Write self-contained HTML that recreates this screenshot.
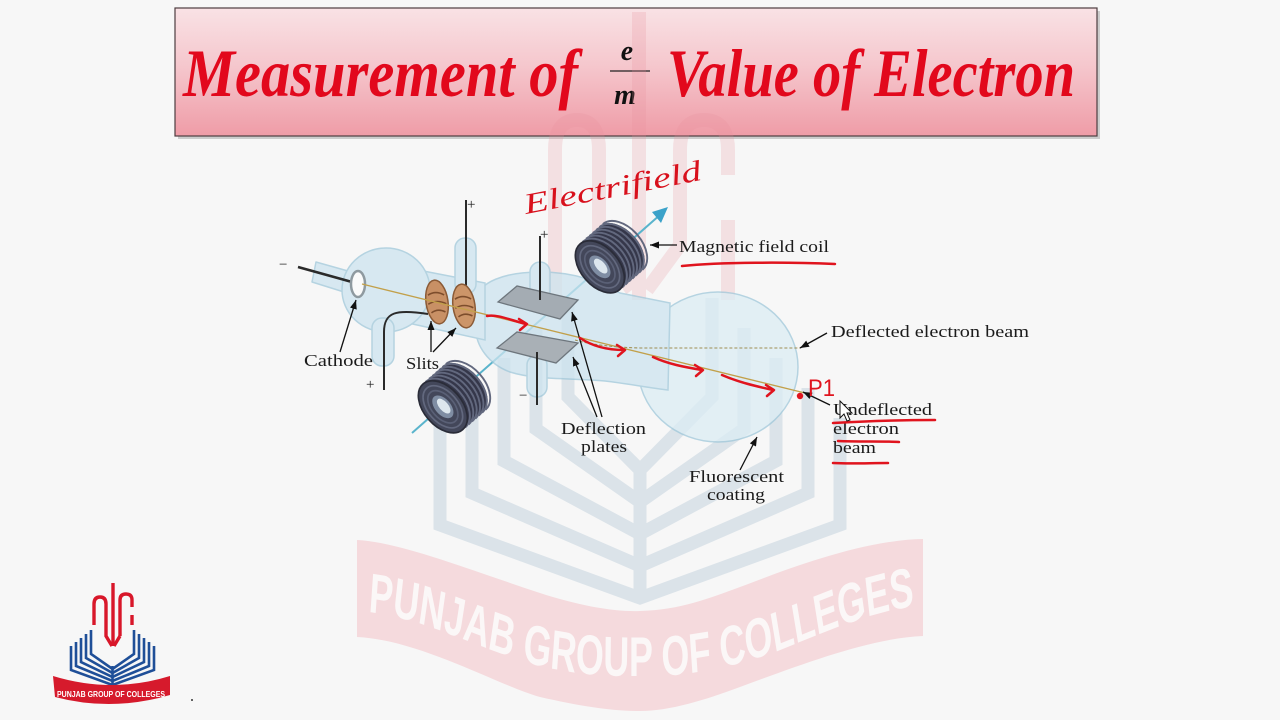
<!DOCTYPE html>
<html><head><meta charset="utf-8">
<style>
html,body{margin:0;padding:0;width:1280px;height:720px;overflow:hidden;background:#f7f7f7;}
svg{display:block}
</style></head><body>
<svg width="1280" height="720" viewBox="0 0 1280 720" xmlns="http://www.w3.org/2000/svg">
<defs>
 <linearGradient id="tg" x1="0" y1="0" x2="0" y2="1">
  <stop offset="0" stop-color="#f9e2e5"/>
  <stop offset="0.45" stop-color="#f5c7cd"/>
  <stop offset="1" stop-color="#ef9ca7"/>
 </linearGradient>
 <marker id="ah" markerUnits="userSpaceOnUse" markerWidth="9" markerHeight="7" viewBox="0 0 9 7" refX="9" refY="3.5" orient="auto">
  <path d="M0,0 L9,3.5 L0,7 Z" fill="#111"/>
 </marker>
 <path id="bp" d="M575,612 C656,618 719,640 812,660 C890,676 953,676 1008,676 C1078,676 1141,668 1219,650 C1297,630 1359,612 1430,606"/>
 <g id="coil">
  <rect x="-12" y="-27" width="24" height="54" fill="#35374a"/>
  <ellipse cx="12" cy="0" rx="17" ry="27" fill="#35374a"/>
  <g fill="none" stroke="#62687e" stroke-width="1.7">
   <path d="M-9,-27 A17,27 0 0 1 -9,27"/>
   <path d="M-5,-27 A17,27 0 0 1 -5,27"/>
   <path d="M-1,-27 A17,27 0 0 1 -1,27"/>
   <path d="M3,-27 A17,27 0 0 1 3,27"/>
   <path d="M7,-27 A17,27 0 0 1 7,27"/>
   <path d="M11,-27 A17,27 0 0 1 11,27"/>
   <path d="M15,-27 A17,27 0 0 1 15,27"/>
  </g>
  <ellipse cx="-12" cy="0" rx="17" ry="27" fill="#43475a" stroke="#2a2c38" stroke-width="1.5"/>
  <ellipse cx="-12" cy="0" rx="13.5" ry="22" fill="none" stroke="#62687e" stroke-width="1.5"/>
  <ellipse cx="-12" cy="0" rx="10" ry="17" fill="none" stroke="#5a6076" stroke-width="1.5"/>
  <ellipse cx="-12" cy="0" rx="7" ry="12" fill="#7f8da3"/>
  <ellipse cx="-11" cy="0" rx="4" ry="8" fill="#dde7ee"/>
 </g>
</defs>

<rect width="1280" height="720" fill="#f7f7f7"/>

<!-- Title box -->
<rect x="178" y="11" width="922" height="128" fill="#a9a9a9" opacity="0.55"/>
<rect x="175" y="8" width="922" height="128" fill="url(#tg)" stroke="#4d3d40" stroke-width="1.2"/>
<text x="183" y="96" font-family="Liberation Serif, serif" font-style="italic" font-weight="bold" font-size="68" fill="#e2081c" textLength="395" lengthAdjust="spacingAndGlyphs">Measurement of</text>
<text x="627" y="60" text-anchor="middle" font-family="Liberation Serif, serif" font-style="italic" font-weight="bold" font-size="28" fill="#111">e</text>
<line x1="610" y1="71" x2="650" y2="71" stroke="#222" stroke-width="1.3"/>
<text x="625" y="104" text-anchor="middle" font-family="Liberation Serif, serif" font-style="italic" font-weight="bold" font-size="28" fill="#111">m</text>
<text x="667" y="96" font-family="Liberation Serif, serif" font-style="italic" font-weight="bold" font-size="68" fill="#e2081c" textLength="408" lengthAdjust="spacingAndGlyphs">Value of Electron</text>

<!-- Watermark: pink letterforms -->
<g fill="none" stroke="#e8909c" stroke-width="14" opacity="0.22">
 <path d="M555,300 V150 Q555,120 577,120 Q599,120 599,150 V245 L632,290"/>
 <path d="M639,12 V300"/>
 <path d="M728,300 V220 M728,175 V150 Q728,120 704,120 Q680,120 680,150 V245 L647,290"/>
</g>

<!-- Watermark: banner -->
<path d="M357,540 C400,542 470,570 540,593 C580,606 615,612 640,611 C680,610 710,598 740,587 C780,572 860,540 923,539 L923,636 C870,638 800,665 740,687 C705,700 670,711 640,711 C610,711 580,706 540,697 C495,684 420,640 357,637 Z" fill="#f5dadd"/>
<g transform="scale(0.64,1)">
 <text font-family="Liberation Sans, Arial, sans-serif" font-weight="bold" font-size="56" fill="#fbf7f7"><textPath href="#bp">PUNJAB GROUP OF COLLEGES</textPath></text>
</g>

<!-- Watermark: chevrons -->
<g fill="none" stroke="#c5d3de" stroke-width="13" opacity="0.55" stroke-linejoin="miter">
 <polyline points="440,418 440,525 640,598 840,525 840,418"/>
 <polyline points="472,388 472,493 640,566 808,493 808,388"/>
 <polyline points="504,358 504,461 640,534 776,461 776,358"/>
 <polyline points="536,328 536,429 640,502 744,429 744,328"/>
 <polyline points="568,298 568,397 640,470 712,397 712,298"/>
 <line x1="640" y1="470" x2="640" y2="598"/>
</g>

<!-- Cyan axis through coils -->
<line x1="412" y1="433" x2="661" y2="214" stroke="#5ab4cc" stroke-width="2"/>
<polygon points="668,207 652,212 661,223" fill="#3ba2c9"/>

<!-- Glass apparatus -->
<g opacity="0.75" fill="#cde4ef" stroke="#9fc8da" stroke-width="1.5">
 <ellipse cx="718" cy="367" rx="80" ry="75" fill="#dcedf4"/>
 <path d="M476,300 C478,282 505,272 540,272 C575,272 600,282 620,293 L670,303 L668,390 C650,388 630,384 605,381 C570,378 535,380 510,372 C488,364 476,345 476,330 Z"/>
 <path d="M408,268 L485,283 L485,340 L408,323 Z"/>
 <path d="M316,262 L348,271 L344,292 L312,282 Z" stroke-linejoin="round"/>
 <ellipse cx="386" cy="290" rx="44" ry="42"/>
 <rect x="455" y="238" width="21" height="56" rx="10"/>
 <rect x="372" y="318" width="22" height="48" rx="10"/>
 <rect x="530" y="262" width="20" height="40" rx="10"/>
 <rect x="527" y="355" width="20" height="42" rx="10"/>
</g>

<!-- Plates -->
<polygon points="498,302 517,286 578,300 560,319" fill="#a4acb3" stroke="#6e767d" stroke-width="1.3"/>
<polygon points="497,348 517,332 578,343 556,363" fill="#a9b0b6" stroke="#6e767d" stroke-width="1.3"/>

<!-- Wires -->
<g stroke="#2a2a2a" fill="none">
 <line x1="298" y1="267" x2="352" y2="282" stroke-width="2.6"/>
 <line x1="466" y1="200" x2="466" y2="292" stroke-width="2"/>
 <path d="M384,390 L384,332 C384,312 396,309 428,314" stroke-width="2"/>
 <line x1="540" y1="236" x2="540" y2="300" stroke-width="2"/>
 <line x1="537" y1="352" x2="537" y2="405" stroke-width="2"/>
</g>
<ellipse cx="358" cy="284" rx="7" ry="13" fill="#fafafa" stroke="#8f9aa0" stroke-width="2.5"/>

<!-- Slits -->
<g transform="rotate(-8 437 302)">
 <ellipse cx="437" cy="302" rx="11" ry="22" fill="#c89065" stroke="#8a5a36" stroke-width="1.5"/>
 <path d="M429,294 Q437,290 445,296 M428,303 Q437,299 446,305 M430,312 Q437,308 444,313" stroke="#7d4d2c" stroke-width="1.6" fill="none"/>
</g>
<g transform="rotate(-8 464 306)">
 <ellipse cx="464" cy="306" rx="11" ry="22" fill="#cc9569" stroke="#8a5a36" stroke-width="1.5"/>
 <path d="M456,298 Q464,294 472,300 M455,307 Q464,303 473,309 M457,316 Q464,312 471,317" stroke="#7d4d2c" stroke-width="1.6" fill="none"/>
</g>

<!-- Beams -->
<line x1="362" y1="284" x2="805" y2="393" stroke="#c2a04a" stroke-width="1.4"/>
<path d="M575,340 Q600,347 640,348 L800,348" fill="none" stroke="#9e8d52" stroke-width="1.1" stroke-dasharray="3,2"/>

<!-- Coils -->
<use href="#coil" transform="translate(610,258) rotate(-41) scale(1.12)"/>
<use href="#coil" transform="translate(453,398) rotate(-41) scale(1.12)"/>

<!-- Signs -->
<g font-family="Liberation Serif, serif" font-size="15" fill="#222">
 <text x="467" y="209">+</text>
 <text x="540" y="239">+</text>
 <text x="366" y="389">+</text>
 <text x="519" y="400">−</text>
 <text x="279" y="269">−</text>
</g>

<!-- Labels -->
<g font-family="Liberation Serif, serif" font-size="17" fill="#1b1b1b">
 <text x="679" y="252" textLength="150" lengthAdjust="spacingAndGlyphs">Magnetic field coil</text>
 <text x="831" y="337" textLength="198" lengthAdjust="spacingAndGlyphs">Deflected electron beam</text>
 <text x="833" y="415" textLength="99" lengthAdjust="spacingAndGlyphs">Undeflected</text>
 <text x="833" y="434" textLength="66" lengthAdjust="spacingAndGlyphs">electron</text>
 <text x="833" y="453" textLength="43" lengthAdjust="spacingAndGlyphs">beam</text>
 <text x="689" y="482" textLength="95" lengthAdjust="spacingAndGlyphs">Fluorescent</text>
 <text x="707" y="500" textLength="58" lengthAdjust="spacingAndGlyphs">coating</text>
 <text x="561" y="434" textLength="85" lengthAdjust="spacingAndGlyphs">Deflection</text>
 <text x="581" y="452" textLength="46" lengthAdjust="spacingAndGlyphs">plates</text>
 <text x="304" y="366" textLength="69" lengthAdjust="spacingAndGlyphs">Cathode</text>
 <text x="406" y="369" textLength="33" lengthAdjust="spacingAndGlyphs">Slits</text>
</g>

<!-- Label arrows -->
<g stroke="#111" stroke-width="1.3" fill="none" marker-end="url(#ah)">
 <line x1="677" y1="245" x2="650" y2="245"/>
 <line x1="827" y1="333" x2="800" y2="348"/>
 <line x1="830" y1="405" x2="803" y2="392"/>
 <line x1="740" y1="470" x2="757" y2="437"/>
 <line x1="602" y1="417" x2="572" y2="312"/>
 <line x1="597" y1="417" x2="573" y2="357"/>
 <line x1="340" y1="352" x2="356" y2="300"/>
 <line x1="431" y1="352" x2="431" y2="321"/>
 <line x1="433" y1="352" x2="456" y2="328"/>
</g>

<!-- Red annotations -->
<text x="526" y="214" transform="rotate(-11 526 214)" font-family="Liberation Serif, serif" font-style="italic" font-size="29" fill="#d8101c" textLength="180" lengthAdjust="spacingAndGlyphs">Electrifield</text>
<g stroke="#e0141e" stroke-width="2.5" fill="none" stroke-linecap="round" stroke-linejoin="round">
 <path d="M487,316 C497,314 510,320 526,324 M519,319 L527,324 L520,330"/>
 <path d="M580,338 C592,346 606,350 624,350 M617,345 L625,350 L618,356"/>
 <path d="M653,357 C668,364 684,367 702,370 M695,365 L703,370 L696,376"/>
 <path d="M722,375 C738,382 755,386 773,390 M766,385 L774,390 L767,396"/>
 <path d="M682,266 C720,262 790,262 835,264"/>
 <path d="M833,423 C870,421 905,420 935,420"/>
 <path d="M838,441 C860,442 880,441 899,442"/>
 <path d="M833,463 C850,464 870,463 888,463"/>
</g>
<circle cx="800" cy="396" r="3.2" fill="#e0141e"/>
<text x="808" y="396" font-family="Liberation Sans, Arial, sans-serif" font-size="24" fill="#e0141e" textLength="27" lengthAdjust="spacingAndGlyphs">P1</text>

<!-- Cursor -->
<polygon points="840,401 840,418 844,414 847,421 850,420 847,413 852,413" fill="#fff" stroke="#111" stroke-width="1"/>

<!-- Small logo bottom-left -->
<g fill="none" stroke="#d8172a" stroke-width="3.4">
 <path d="M94,625 V604 Q94,597 100,597 Q106,597 106,604 V636 L112,646"/>
 <path d="M113,583 V646"/>
 <path d="M120,636 V600 Q120,594 126,594 Q132,594 132,600 V607 M132,615 V625"/>
 <path d="M120,636 L114,646"/>
</g>
<g fill="none" stroke="#1f4f98" stroke-width="2.6">
 <polyline points="71,646 71,670 112.5,685 154,670 154,646"/>
 <polyline points="76,642 76,666 112.5,681 149,666 149,642"/>
 <polyline points="81,638 81,662 112.5,677 144,662 144,638"/>
 <polyline points="86,634 86,658 112.5,673 139,658 139,634"/>
 <polyline points="91,630 91,654 112.5,669 134,654 134,630"/>
 <line x1="112.5" y1="666" x2="112.5" y2="685"/>
</g>
<path d="M53,676 Q112,694 170,676 L170,695 Q112,712 55,697 Z" fill="#d61a2c"/>
<text x="57" y="697" font-family="Liberation Sans, Arial, sans-serif" font-weight="bold" font-size="8" fill="#fff" textLength="108" lengthAdjust="spacingAndGlyphs">PUNJAB GROUP OF COLLEGES</text>
<circle cx="192" cy="700" r="1" fill="#333"/>
</svg>
</body></html>
